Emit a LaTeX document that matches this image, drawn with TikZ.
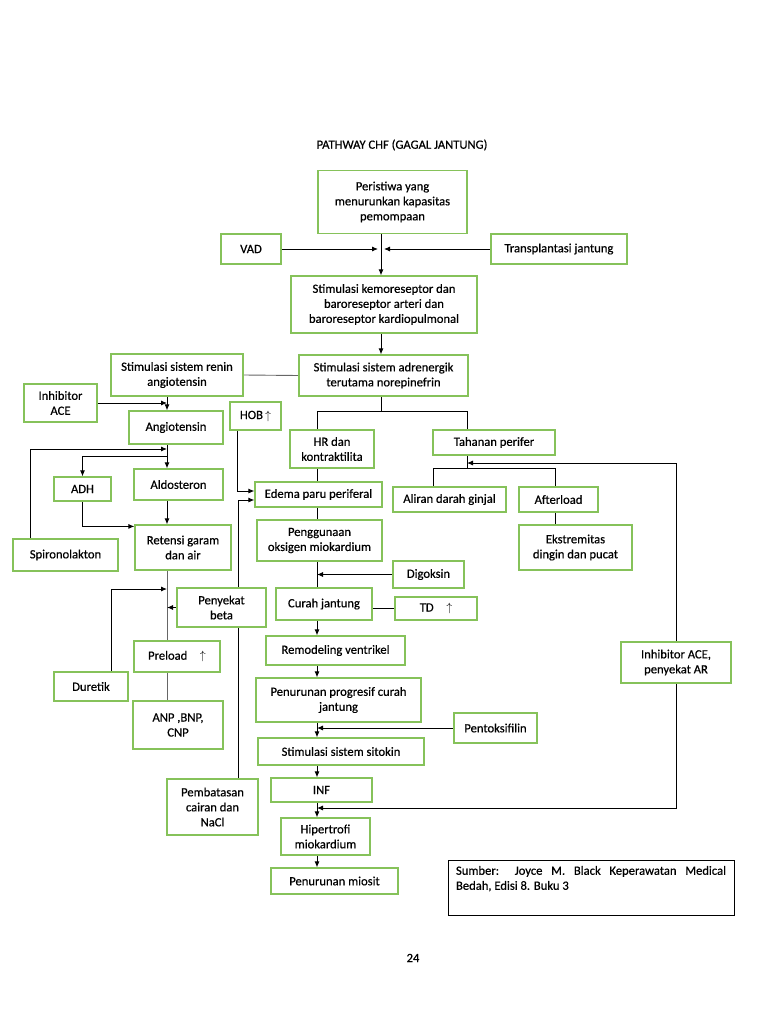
\documentclass[tikz,border=0pt]{standalone}
\usepackage{fontspec}
\setmainfont{Carlito}[FakeBold=0.5]
\usepackage{xcolor}
\usepackage{tikz}
\usetikzlibrary{arrows.meta,backgrounds}
\definecolor{hijau}{HTML}{86C25A}

\begin{document}
\begin{tikzpicture}[x=1pt,y=-1pt,font=\fontsize{12.6}{15}\selectfont,
  kotak/.style={draw=hijau,line width=1.2pt,fill=white,align=center,inner sep=0pt},
  garis/.style={line width=0.9pt},
  panah/.style={line width=0.9pt,-{Latex[length=6pt,width=5pt]}}]
\useasboundingbox (0,0) rectangle (768,1024);
\node (judul) at (402,145){PATHWAY CHF (GAGAL JANTUNG)};
\node[kotak,minimum width=149,minimum height=63] (per) at (392.5,202){Peristiwa yang\\menurunkan kapasitas\\pemompaan};
\node[kotak,minimum width=60,minimum height=30] (vad) at (251,249){VAD};
\node[kotak,minimum width=136,minimum height=30] (tra) at (559,249){Transplantasi jantung};
\node[kotak,minimum width=186,minimum height=57] (kemo) at (384,304.5){Stimulasi kemoreseptor dan\\baroreseptor arteri dan\\baroreseptor kardiopulmonal};
\node[kotak,minimum width=169,minimum height=41] (adr) at (383.5,375.5){Stimulasi sistem adrenergik\\terutama norepinefrin};
\node[kotak,minimum width=132,minimum height=42] (ren) at (177,375){Stimulasi sistem renin\\angiotensin};
\node[kotak,minimum width=73,minimum height=38] (ace1) at (60.5,403){Inhibitor\\ACE};
\node[kotak,minimum width=94,minimum height=33] (ang) at (176,427.5){Angiotensin};
\node[kotak,minimum width=51,minimum height=28] (hob) at (255.5,416){HOB\,$\uparrow$};
\node[kotak,minimum width=89,minimum height=31] (ald) at (178.5,484.5){Aldosteron};
\node[kotak,minimum width=57,minimum height=24] (adh) at (82.5,489){ADH};
\node[kotak,minimum width=96,minimum height=45] (ret) at (183,547.5){Retensi garam\\dan air};
\node[kotak,minimum width=105,minimum height=32] (spi) at (65.5,555){Spironolakton};
\node[kotak,minimum width=84,minimum height=38] (hr) at (332,449){HR dan\\kontraktilita};
\node[kotak,minimum width=122,minimum height=25] (tah) at (494,442.5){Tahanan perifer};
\node[kotak,minimum width=127,minimum height=25] (ede) at (318.5,494.5){Edema paru periferal};
\node[kotak,minimum width=125,minimum height=41] (peng) at (319.5,540.5){Penggunaan\\oksigen miokardium};
\node[kotak,minimum width=113,minimum height=25] (ali) at (449.5,499.5){Aliran darah ginjal};
\node[kotak,minimum width=79,minimum height=25] (aft) at (558.5,499.5){Afterload};
\node[kotak,minimum width=113,minimum height=45] (eks) at (575.5,547.5){Ekstremitas\\dingin dan pucat};
\node[kotak,minimum width=110,minimum height=41] (ace2) at (676,662.5){Inhibitor ACE,\\penyekat AR};
\node[kotak,minimum width=71,minimum height=27] (dig) at (428.5,574.5){Digoksin};
\node[kotak,minimum width=96,minimum height=32] (cur) at (324,604){Curah jantung};
\node[kotak,minimum width=82,minimum height=23] (td) at (436,608.5){TD\quad$\uparrow$};
\node[kotak,minimum width=139,minimum height=29] (rem) at (335.5,650.5){Remodeling ventrikel};
\node[kotak,minimum width=165,minimum height=44] (pro) at (338.5,700){Penurunan progresif curah\\jantung};
\node[kotak,minimum width=83,minimum height=30] (pen) at (495.5,728){Pentoksifilin};
\node[kotak,minimum width=166,minimum height=27] (sit) at (341,751.5){Stimulasi sistem sitokin};
\node[kotak,minimum width=101,minimum height=24] (inf) at (321.5,790){INF};
\node[kotak,minimum width=89,minimum height=37] (hip) at (325.5,836.5){Hipertrofi\\miokardium};
\node[kotak,minimum width=127,minimum height=26] (mio) at (334.5,881){Penurunan miosit};
\node[kotak,minimum width=89,minimum height=39] (pbe) at (221.5,607.5){Penyekat\\beta};
\node[kotak,minimum width=86,minimum height=31] (pre) at (177,656.5){Preload\quad$\uparrow$};
\node[kotak,minimum width=74,minimum height=29] (dur) at (91,686.5){Duretik};
\node[kotak,minimum width=90,minimum height=48] (anp) at (178,725){ANP ,BNP,\\CNP};
\node[kotak,minimum width=91,minimum height=56] (pem) at (212.5,807){Pembatasan\\cairan dan\\NaCl};
\node[draw,line width=1pt,inner xsep=8pt,inner ysep=6pt] (sum) at (591,887.5){\parbox[c][43pt][t]{270pt}{Sumber: Joyce M. Black Keperawatan Medical\linebreak Bedah, Edisi 8. Buku 3}};
\node (hal) at (413,958){24};

\coordinate (ma) at (381,411);
\coordinate (mb) at (317,411);
\coordinate (mc) at (467,411);
\coordinate (md) at (317,808);
\coordinate (me) at (467,468);
\coordinate (mf) at (467,463);
\coordinate (mg) at (433,468);
\coordinate (mh) at (555,468);
\coordinate (ka) at (167,449);
\coordinate (kb) at (167,456);
\coordinate (kc) at (167,589);
\coordinate (sv) at (30,449);
\coordinate (dv) at (111,589);
\coordinate (hv) at (237,491);
\coordinate (pv) at (238,500);

\begin{pgfonlayer}{background}
\draw[panah] (per.south -| ma) -- (kemo.north -| ma);
\draw[panah] (vad.east) -- ([xshift=-3pt]vad.east -| ma);
\draw[panah] (tra.west) -- ([xshift=3pt]tra.west -| ma);
\draw[panah] (kemo.south -| ma) -- (adr.north -| ma);
\draw[garis,black!60] (ren.east) -- (adr.west);
\draw[garis] (adr.south -| ma) -- (ma);
\draw[garis] (hr.north -| mb) |- (mc) -- (tah.north -| mc);
\draw[garis] (hr.south -| mb) -- (ede.north -| mb);
\draw[garis] (ede.south -| mb) -- (peng.north -| mb);
\draw[garis] (peng.south -| mb) -- (cur.north -| mb);
\draw[panah] (dig.west) -- (dig.west -| mb);
\draw[garis] (td.west) -- (td.west -| cur.east);
\draw[panah] (cur.south -| mb) -- (rem.north -| mb);
\draw[panah] (rem.south -| mb) -- (pro.north -| mb);
\draw[panah] (pro.south -| mb) -- (sit.north -| mb);
\draw[panah] (pen.west) -- (pen.west -| mb);
\draw[panah] (sit.south -| mb) -- (inf.north -| mb);
\draw[panah] (inf.south -| mb) -- (hip.north -| mb);
\draw[panah] (hip.south -| mb) -- (mio.north -| mb);
\draw[panah] (ace2.south) |- (md);
\draw[garis] (tah.south -| mc) -- (me);
\draw[garis] (ali.north -| mg) -- (mg) -- (mh) -- (aft.north -| mh);
\draw[garis] (aft.south -| mh) -- (eks.north -| mh);
\draw[panah] (ace2.north) |- (mf);
\draw[panah] (ren.south -| ka) -- (ang.north -| ka);
\draw[panah] (ace1.east) -- (ace1.east -| ka);
\draw[panah] (ang.south -| ka) -- (ald.north -| ka);
\draw[panah] (kb) -| (adh.north);
\draw[panah] (spi.north -| sv) |- (ka);
\draw[panah] (adh.south) |- ([yshift=-2pt]ret.north west);
\draw[panah] (ald.south -| ka) -- (ret.north -| ka);
\draw[garis,black!60] (ret.south -| ka) -- (pre.north -| ka);
\draw[panah] (dur.north -| dv) -- (dv) -- (kc);
\draw[panah] (pbe.west) -- (pbe.west -| ka);
\draw[garis,black!60] (pre.south -| ka) -- (anp.north -| ka);
\draw[panah] (hob.south -| hv) |- (ede.west |- hv);
\draw[panah] (pem.north -| pv) |- (ede.west |- pv);
\end{pgfonlayer}
\end{tikzpicture}
\end{document}
